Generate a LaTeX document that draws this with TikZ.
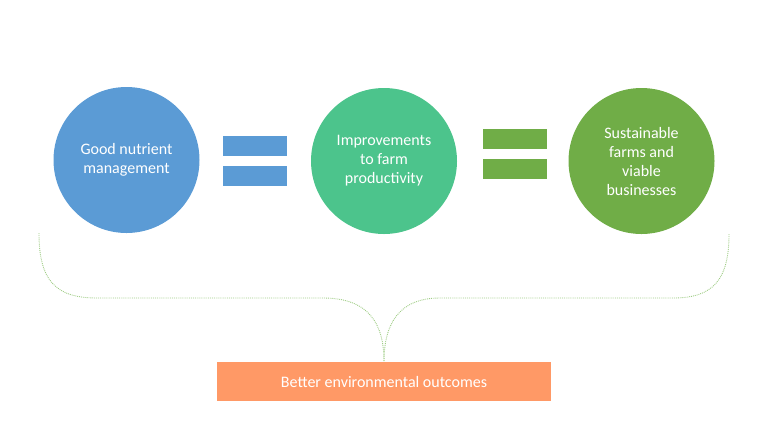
\documentclass[tikz,border=0pt]{standalone}
\usepackage{fontspec}
\setmainfont{Carlito}
\usetikzlibrary{positioning}
\definecolor{Nc}{HTML}{5B9BD5}
\definecolor{Pc}{HTML}{4CC48C}
\definecolor{Sc}{HTML}{70AD47}
\definecolor{Ec}{HTML}{FF9966}
\definecolor{brc}{HTML}{9FCC85}
\tikzset{
  goal/.style={circle, inner sep=0pt, minimum size=146pt, text=white, align=center, font=\fontsize{16}{19}\selectfont},
  bar/.style={rectangle, inner sep=0pt, minimum width=64pt, minimum height=20pt},
  outcome/.style={rectangle, fill=Ec, inner sep=0pt, minimum width=334pt, minimum height=39pt, text=white, font=\fontsize{16}{19}\selectfont},
  brace/.style={brc, densely dotted, line width=0.9pt},
}

\begin{document}
\begin{tikzpicture}[x=1pt, y=-1pt]
  \useasboundingbox (0,0) rectangle (768,432);
  \node[goal, fill=Nc] (nutr) at (126.5,160) {Good nutrient\\management};
  \node[goal, fill=Pc] (prod) at (384,161) {Improvements\\to farm\\productivity};
  \node[goal, fill=Sc] (sust) at (641.5,161) {Sustainable\\farms and\\viable\\businesses};
  \node[bar, fill=Nc] (eqa) at (255,146) {};
  \node[bar, fill=Nc] (eqb) at (255,176) {};
  \node[bar, fill=Sc] (eqc) at (514.5,139) {};
  \node[bar, fill=Sc] (eqd) at (514.5,169) {};
  \node[outcome] (env) at (384,381.5) {Better environmental outcomes};
  \coordinate (bl) at (39,233);
  \coordinate (br) at (729,234);
  \draw[brace] (bl) .. controls (39,280) and (55,298) .. (97,298) -- (323,298)
    .. controls (370,298) and (384,325) .. (env.north);
  \draw[brace] (br) .. controls (729,280) and (713,298) .. (673,298) -- (440,298)
    .. controls (398,298) and (384,325) .. (env.north);
\end{tikzpicture}
\end{document}
